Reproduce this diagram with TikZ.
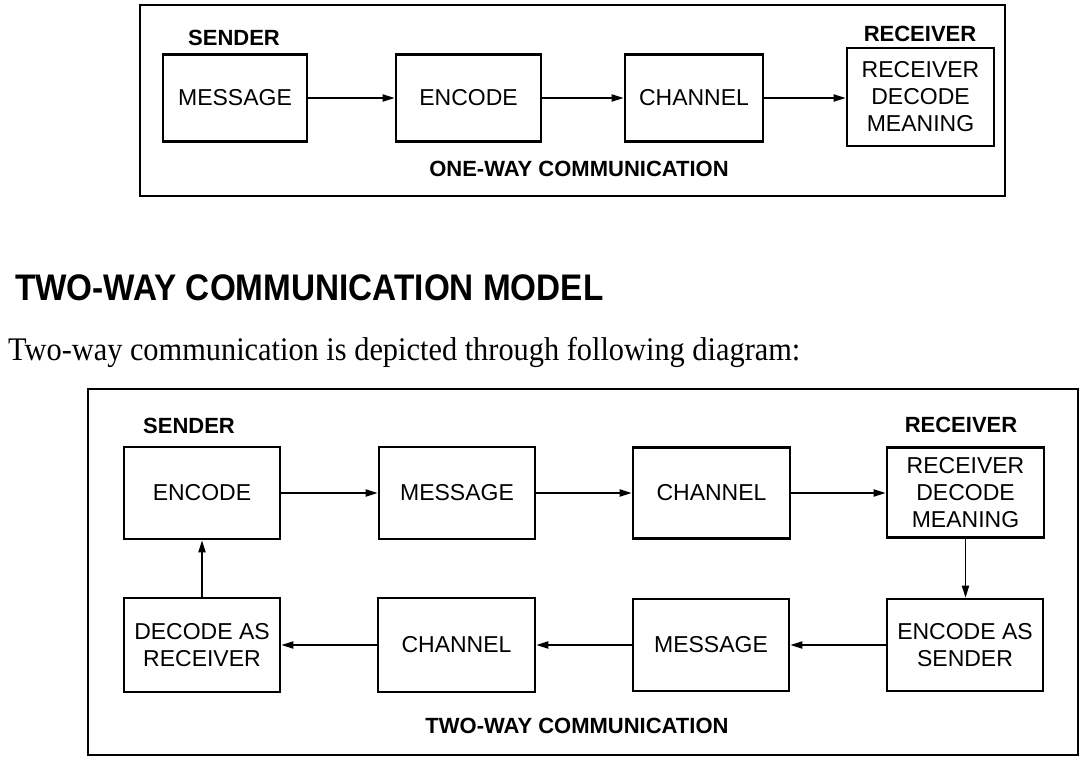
\documentclass[tikz,border=0pt]{standalone}
\usepackage{fontspec}
\setmainfont{Liberation Sans}
\newfontfamily\serifbody[FakeStretch=0.92]{Liberation Serif}
\newfontfamily\titlefont[FakeStretch=0.9]{Liberation Sans}
\usetikzlibrary{arrows.meta}
\begin{document}
\begin{tikzpicture}[x=1pt,y=-1pt,
  bx/.style={draw, line width=2.6pt, inner sep=0pt, align=center,
    font=\fontsize{23}{27}\selectfont},
  lbl/.style={anchor=base, inner sep=0pt, font=\bfseries\fontsize{22}{26}\selectfont},
  arr/.style={line width=1.9pt, -{Triangle[length=12pt,width=7pt]}},
  frame/.style={line width=2pt}]
\useasboundingbox (0,0) rectangle (1085,758);
\fill[white] (0,0) rectangle (1085,758);

% ---------- one-way ----------
\draw[frame] (140,5) rectangle (1005,196);
\node[bx, minimum width=144pt, minimum height=87pt] (m1) at (235,98) {MESSAGE};
\node[bx, minimum width=145pt, minimum height=87pt] (e1) at (468.5,98) {ENCODE};
\node[bx, minimum width=138pt, minimum height=87pt] (c1) at (694,98) {CHANNEL};
\node[bx, minimum width=147pt, minimum height=98pt] (r1) at (920.5,97) {RECEIVER\\DECODE\\MEANING};
\node[lbl] (s1l) at (234,45) {SENDER};
\node[lbl] (r1l) at (920,41) {RECEIVER};
\node[lbl] (ow) at (579,176) {ONE-WAY COMMUNICATION};
\draw[arr] (m1.east) -- (e1.west);
\draw[arr] (e1.east) -- (c1.west);
\draw[arr] (c1.east) -- (c1.east -| r1.west);

% ---------- heading and text ----------
\node[anchor=base west, inner sep=0pt, font=\titlefont\bfseries\fontsize{37}{40}\selectfont] (title) at (15,300) {TWO-WAY COMMUNICATION MODEL};
\node[anchor=base west, inner sep=0pt, font=\serifbody\fontsize{33}{36}\selectfont] (body) at (8,360) {Two-way communication is depicted through following diagram:};

% ---------- two-way ----------
\draw[frame] (88,389) rectangle (1078,755);
\node[bx, minimum width=156pt, minimum height=92pt] (e2) at (202,493) {ENCODE};
\node[bx, minimum width=156pt, minimum height=92pt] (m2) at (457,493) {MESSAGE};
\node[bx, minimum width=157pt, minimum height=91pt] (c2) at (711.5,493) {CHANNEL};
\node[bx, minimum width=157pt, minimum height=90pt] (r2) at (965.5,492.5) {RECEIVER\\DECODE\\MEANING};
\node[bx, minimum width=156pt, minimum height=94pt] (d3) at (202,645) {DECODE AS\\RECEIVER};
\node[bx, minimum width=157pt, minimum height=94pt] (c3) at (456.5,645) {CHANNEL};
\node[bx, minimum width=156pt, minimum height=92pt] (m3) at (711,645) {MESSAGE};
\node[bx, minimum width=156pt, minimum height=92pt] (e3) at (965,645) {ENCODE AS\\SENDER};
\node[lbl] (s2l) at (189,433) {SENDER};
\node[lbl] (r2l) at (961,432) {RECEIVER};
\node[lbl] (tw) at (577,733) {TWO-WAY COMMUNICATION};
\draw[arr] (e2.east) -- (m2.west);
\draw[arr] (m2.east) -- (c2.west);
\draw[arr] (c2.east) -- (c2.east -| r2.west);
\draw[arr] (r2.south) -- (r2.south |- e3.north);
\draw[arr] (e3.west) -- (m3.east);
\draw[arr] (m3.west) -- (c3.east);
\draw[arr] (c3.west) -- (d3.east);
\draw[arr] (d3.north) -- (e2.south);
\end{tikzpicture}
\end{document}
